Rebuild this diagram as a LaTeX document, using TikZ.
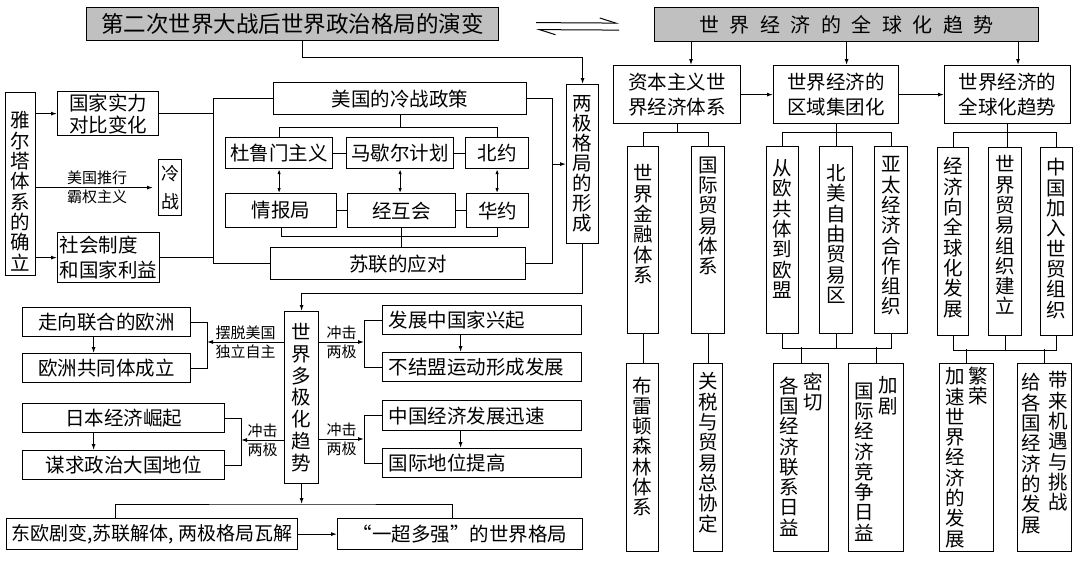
\documentclass[tikz,border=0pt]{standalone}
\usepackage{fontspec}
\setmainfont{Noto Sans CJK SC}
\usetikzlibrary{arrows.meta}
\definecolor{headgray}{RGB}{192,192,192}
\XeTeXlinebreaklocale "zh"
\XeTeXlinebreakskip=0pt plus 1pt
\newcommand\mainsize{\fontsize{19.5}{24.5}\selectfont}
\newcommand\headsize{\fontsize{22.5}{26}\selectfont}
\newcommand\labsize{\fontsize{15}{17}\selectfont}
\newcommand\hgap{\hspace{10.5pt}}
\newcommand\vstk[2][20.5]{\parbox{1.05em}{\centering\baselineskip=#1pt\relax #2\par}}
\newcommand\vtxt[3]{\parbox[c][#1pt][t]{1.05em}{\vspace*{#2pt}\centering\baselineskip=20.3pt\relax #3\par}}

\begin{document}
\begin{tikzpicture}[x=1pt, y=-1pt, line width=1pt,
    box/.style={draw, line width=1.2pt, fill=white, inner sep=0pt, anchor=north west, font=\mainsize},
    headbox/.style={box, fill=headgray, font=\headsize},
    lbox/.style={box, align=left, inner xsep=6pt, text width=187pt},
    lab/.style={font=\labsize, inner sep=2pt},
    arr/.style={-{Latex[length=6pt,width=4pt]}},
    darr/.style={{Latex[length=5pt,width=3.5pt]}-{Latex[length=5pt,width=3.5pt]}},
    harp/.style={-{Straight Barb[left,length=16pt,width=10pt]}}]
  \path[use as bounding box, fill=white] (0,0) rectangle (1080,573);

  \node[headbox, minimum width=412pt, minimum height=33pt] (title) at (86,7) {第二次世界大战后世界政治格局的演变};
  \node[headbox, font=\fontsize{20}{24}\selectfont, minimum width=384pt, minimum height=34pt] (title2) at (654,7) {世\hgap 界\hgap 经\hgap 济\hgap 的\hgap 全\hgap 球\hgap 化\hgap 趋\hgap 势};
  \draw[harp] ([xshift=37pt,yshift=1.5pt]title.east) -- ([xshift=-35pt,yshift=1.5pt]title2.west);
  \draw[harp] ([xshift=-35pt,yshift=-5.5pt]title2.west) -- ([xshift=37pt,yshift=-5.5pt]title.east);

  \node[box, minimum width=30pt, minimum height=183pt] (yalta) at (5,92) {\vtxt{183}{19}{雅尔塔体系的确立}};
  \node[box, align=center, font=\fontsize{19.5}{22}\selectfont, minimum width=101pt, minimum height=44pt] (power) at (57,91) {国家实力\\对比变化};
  \node[box, font=\fontsize{18}{20}\selectfont, minimum width=23pt, minimum height=56pt] (cold) at (158,159) {\vstk[28]{冷战}};
  \node[box, align=left, minimum width=102pt, minimum height=50pt] (social) at (57,232) {社会制度\\和国家利益};
  \draw[arr] (yalta.east |- power.west) -- (power.west);
  \draw[arr] (yalta.east |- social.west) -- (social.west);
  \draw[arr, shorten >=5pt] (yalta.east |- cold.west) -- node[lab, above] (push) {美国推行} node[lab, below] (hegem) {霸权主义} (cold.west);

  \node[box, minimum width=253pt, minimum height=32pt] (usp) at (273,82) {美国的冷战政策};
  \node[box, minimum width=107pt, minimum height=31pt] (truman) at (225,137) {杜鲁门主义};
  \node[box, minimum width=107pt, minimum height=31pt] (marshall) at (346,137) {马歇尔计划};
  \node[box, minimum width=63pt, minimum height=31pt] (nato) at (465,137) {北约};
  \node[box, minimum width=111pt, minimum height=34pt] (cominform) at (225,193) {情报局};
  \node[box, minimum width=108pt, minimum height=34pt] (comecon) at (347,193) {经互会};
  \node[box, minimum width=62pt, minimum height=34pt] (warsaw) at (466,193) {华约};
  \node[box, minimum width=255pt, minimum height=32pt] (ussr) at (270,247) {苏联的应对};
  \node[box, minimum width=32pt, minimum height=159pt] (bipolar) at (566,84) {\vstk[20]{两极格局的形成}};
  \coordinate (lb) at (213,0);
  \coordinate (rb) at (552,0);
  \draw (usp.south) -- ++(0,13);
  \draw (truman.north) -- ++(0,-10) -| (nato.north);
  \draw (truman.east) -- (marshall.west);
  \draw (marshall.east) -- (nato.west);
  \draw (cominform.east) -- (comecon.west);
  \draw (comecon.east) -- (warsaw.west);
  \draw[darr] (truman.south) -- (truman.south |- cominform.north);
  \draw[darr] (marshall.south) -- (marshall.south |- comecon.north);
  \draw[darr] (nato.south) -- (nato.south |- warsaw.north);
  \draw (cominform.south) -- ++(0,8) -| (warsaw.south);
  \draw (comecon.south) -- (comecon.south |- ussr.north);
  \draw (usp.west) -| (lb |- ussr.west) -- (ussr.west);
  \draw (power.east) -- (power.east -| lb);
  \draw (social.east) -- (social.east -| lb);
  \draw (usp.east) -| (rb |- ussr.east) -- (ussr.east);
  \draw[arr] (rb |- bipolar.west) -- (bipolar.west);
  \draw[arr] ([xshift=10pt]title.south) -- ++(0,16) -| (bipolar.north);

  \node[box, minimum width=34pt, minimum height=172pt] (multi) at (284,311) {\vstk[21.7]{世界多极化趋势}};
  \draw[arr] (bipolar.south) -- ++(0,49) -| (multi.north);
  \node[box, minimum width=168pt, minimum height=29pt] (eu1) at (22,307) {走向联合的欧洲};
  \node[box, minimum width=168pt, minimum height=29pt] (eu2) at (22,353) {欧洲共同体成立};
  \node[box, minimum width=202pt, minimum height=29pt] (jp1) at (22,403) {日本经济崛起};
  \node[box, minimum width=202pt, minimum height=29pt] (jp2) at (22,450) {谋求政治大国地位};
  \node[lbox, minimum height=29pt] (dev1) at (382,305) {发展中国家兴起};
  \node[lbox, minimum height=29pt] (dev2) at (382,352) {不结盟运动形成发展};
  \node[lbox, minimum height=30pt] (cn1) at (382,400) {中国经济发展迅速};
  \node[lbox, minimum height=29pt] (cn2) at (382,448) {国际地位提高};
  \node[box, font=\fontsize{19}{22}\selectfont, minimum width=291pt, minimum height=31pt] (eeu) at (6,518) {东欧剧变,苏联解体, 两极格局瓦解};
  \node[box, minimum width=245pt, minimum height=31pt] (world) at (337,518) {“一超多强”的世界格局};
  \coordinate (eb) at (207,342);
  \coordinate (db) at (364,342);
  \coordinate (jb) at (241,440);
  \coordinate (cb) at (364,439);
  \coordinate (bj) at (301,504);
  \draw[arr] ([xshift=-13pt]eu1.south) -- ([xshift=-13pt]eu2.north);
  \draw[arr] ([xshift=-30pt]jp1.south) -- ([xshift=-30pt]jp2.north);
  \draw[arr] ([xshift=-21.5pt]dev1.south) -- ([xshift=-21.5pt]dev2.north);
  \draw[arr] ([xshift=-21.5pt]cn1.south) -- ([xshift=-21.5pt]cn2.north);
  \draw (eu1.east) -| (eb |- eu2.east) -- (eu2.east);
  \draw (jp1.east) -| (jb |- jp2.east) -- (jp2.east);
  \draw (dev1.west) -| (db |- dev2.west) -- (dev2.west);
  \draw (cn1.west) -| (cb |- cn2.west) -- (cn2.west);
  \draw[arr] (multi.west |- eb) -- node[lab, above] (freeus) {摆脱美国} node[lab, below] (indep) {独立自主} (eb);
  \draw[arr] (multi.west |- jb) -- node[lab, above] (hitjp) {冲击} node[lab, below] (twojp) {两极} (jb);
  \draw[arr] (multi.east |- db) -- node[lab, above] (hitdev) {冲击} node[lab, below] (twodev) {两极} (db);
  \draw[arr] (multi.east |- cb) -- node[lab, above] (hitcn) {冲击} node[lab, below] (twocn) {两极} (cb);
  \draw[arr] (multi.south) -- (multi.south |- bj);
  \draw ([xshift=-36.5pt]eeu.north) |- (bj) -| ([xshift=-7.5pt]world.north);
  \draw[arr] (eeu.east) -- (world.west);

  \node[box, align=center, minimum width=127pt, minimum height=58pt] (cap) at (613,65) {资本主义世\\界经济体系};
  \node[box, align=center, minimum width=125pt, minimum height=58pt] (reg) at (773,65) {世界经济的\\区域集团化};
  \node[box, align=center, minimum width=126pt, minimum height=58pt] (glob) at (944,65) {世界经济的\\全球化趋势};
  \coordinate (ca) at (691,0);
  \coordinate (cc) at (1018,0);
  \draw[arr] (ca |- title2.south) -- (ca |- cap.north);
  \draw[arr] (title2.south) -- (title2.south |- reg.north);
  \draw[arr] (cc |- title2.south) -- (cc |- glob.north);
  \draw[arr] (cap.east) -- (reg.west);
  \draw[arr] (reg.east) -- (glob.west);

  \node[box, minimum width=31pt, minimum height=187pt] (fin) at (627,146) {\vtxt{187}{18}{世界金融体系}};
  \node[box, minimum width=33pt, minimum height=187pt] (trade) at (691,146) {\vtxt{187}{10}{国际贸易体系}};
  \node[box, minimum width=32pt, minimum height=187pt] (eu) at (766,146) {\vtxt{187}{13}{从欧共体到欧盟}};
  \node[box, minimum width=33pt, minimum height=187pt] (nafta) at (819,146) {\vtxt{187}{18}{北美自由贸易区}};
  \node[box, minimum width=33pt, minimum height=187pt] (apec) at (874,146) {\vtxt{187}{10}{亚太经济合作组织}};
  \node[box, minimum width=31pt, minimum height=188pt] (ecoglob) at (937,147) {\vtxt{188}{10}{经济向全球化发展}};
  \node[box, minimum width=33pt, minimum height=188pt] (wto) at (988,147) {\vtxt{188}{8}{世界贸易组织建立}};
  \node[box, minimum width=32pt, minimum height=188pt] (cnwto) at (1040,147) {\vtxt{188}{11}{中国加入世贸组织}};
  \draw (cap.south) -- ++(0,9);
  \draw (fin.north) -- ++(0,-14) -| (trade.north);
  \draw (reg.south) -- (nafta.north);
  \draw (eu.north) -- ++(0,-14) -| (apec.north);
  \draw (glob.south) -- (glob.south |- wto.north);
  \draw (ecoglob.north) -- ++(0,-15) -| (cnwto.north);

  \node[box, minimum width=32pt, minimum height=188pt] (bw) at (626,363) {\vtxt{188}{13}{布雷顿森林体系}};
  \node[box, minimum width=29pt, minimum height=188pt] (gatt) at (693,363) {\vtxt{188}{9}{关税与贸易总协定}};
  \node[box, minimum width=55pt, minimum height=188pt] (tie) at (773,363) {\vtxt{188}{13}{各国经济联系日益}\hspace{4pt}\vtxt{188}{9}{密切}};
  \node[box, minimum width=55pt, minimum height=188pt] (comp) at (848,363) {\vtxt{188}{19}{国际经济竞争日益}\hspace{4pt}\vtxt{188}{13}{加剧}};
  \node[box, minimum width=54pt, minimum height=188pt] (pros) at (939,363) {\vtxt{188}{4}{加速世界经济的发展}\hspace{3pt}\vtxt{188}{3}{繁荣}};
  \node[box, minimum width=54pt, minimum height=188pt] (chal) at (1017,363) {\vtxt{188}{10}{给各国经济的发展}\hspace{6pt}\vtxt{188}{8}{带来机遇与挑战}};
  \draw (fin.south) -- (fin.south |- bw.north);
  \draw (trade.south) -- (trade.south |- gatt.north);
  \draw (eu.south) -- ++(0,14) -| (apec.south);
  \draw (nafta.south) -- ++(0,14);
  \draw (tie.north) -- ++(0,-16);
  \draw (comp.north) -- ++(0,-16);
  \draw (ecoglob.south) -- ++(0,14) -| (cnwto.south);
  \draw (wto.south) -- ++(0,14);
  \draw (pros.north) -- ++(0,-14);
  \draw (chal.north) -- ++(0,-14);
\end{tikzpicture}
\end{document}
